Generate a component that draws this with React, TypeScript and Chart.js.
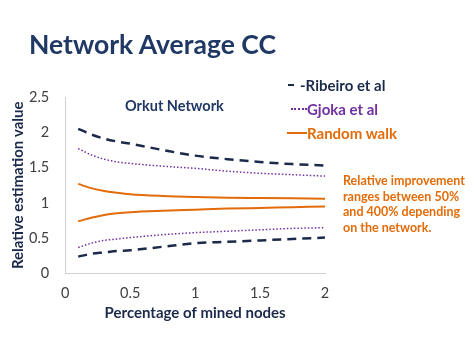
import React, { useEffect, useRef } from "react";
import { Chart, registerables } from "chart.js";

Chart.register(...registerables);

const xValues = [0.1, 0.2, 0.3, 0.4, 0.5, 0.75, 1, 1.25, 1.5, 1.75, 2];
const ribeiroUpper = [2.05, 1.97, 1.91, 1.87, 1.84, 1.75, 1.67, 1.62, 1.58, 1.55, 1.53];
const ribeiroLower = [0.24, 0.28, 0.3, 0.32, 0.33, 0.38, 0.43, 0.45, 0.47, 0.49, 0.51];
const gjokaUpper = [1.77, 1.68, 1.62, 1.58, 1.56, 1.52, 1.49, 1.45, 1.42, 1.4, 1.38];
const gjokaLower = [0.37, 0.43, 0.47, 0.49, 0.51, 0.55, 0.58, 0.6, 0.62, 0.64, 0.65];
const rwUpper = [1.27, 1.21, 1.17, 1.145, 1.125, 1.1, 1.085, 1.075, 1.07, 1.065, 1.06];
const rwLower = [0.74, 0.79, 0.83, 0.855, 0.87, 0.89, 0.905, 0.92, 0.93, 0.94, 0.95];
const xTicks = [0, 0.5, 1, 1.5, 2];
const yTicks = [0, 0.5, 1, 1.5, 2, 2.5];

const NAVY = "#1b2a4a";
const PURPLE = "#7030a0";
const ORANGE = "#e36c0a";
const FONT = "Lato, 'Open Sans', sans-serif";

const toPts = (ys: number[]) => xValues.map((x, i) => ({ x, y: ys[i] }));

export default function App() {
  const ref = useRef<HTMLCanvasElement>(null);
  useEffect(() => {
    if (!ref.current) return;
    const mk = (data: number[], color: string, dash: number[], width: number) => ({
      data: toPts(data),
      borderColor: color,
      borderDash: dash,
      borderWidth: width,
      pointRadius: 0,
      cubicInterpolationMode: "monotone" as const,
      fill: false,
    });
    const chart = new Chart(ref.current, {
      type: "line",
      data: {
        datasets: [
          mk(ribeiroUpper, NAVY, [9, 6], 2.5),
          mk(ribeiroLower, NAVY, [9, 6], 2.5),
          mk(gjokaUpper, PURPLE, [1.5, 2], 1.5),
          mk(gjokaLower, PURPLE, [1.5, 2], 1.5),
          mk(rwUpper, ORANGE, [], 2),
          mk(rwLower, ORANGE, [], 2),
        ],
      },
      options: {
        animation: false,
        responsive: false,
        layout: { padding: { left: 2, right: 149, top: 97, bottom: 30 } },
        plugins: { legend: { display: false }, tooltip: { enabled: false } },
        scales: {
          x: {
            type: "linear",
            min: 0,
            max: 2,
            afterBuildTicks: (s: any) => {
              s.ticks = xTicks.map((v) => ({ value: v }));
            },
            grid: { display: false, drawTicks: false },
            border: { color: "#d0d0d0", width: 1 },
            ticks: {
              color: "#404040",
              font: { family: FONT, size: 14.5 },
              padding: 11,
              callback: (v: any) => String(v),
            },
            title: {
              display: true,
              text: "Percentage of mined nodes",
              color: NAVY,
              font: { family: FONT, size: 15, weight: "bold" },
              padding: { top: -9, bottom: 3 },
            },
          },
          y: {
            min: 0,
            max: 2.5,
            afterBuildTicks: (s: any) => {
              s.ticks = yTicks.map((v) => ({ value: v }));
            },
            grid: { display: false, drawTicks: false },
            border: { color: "#d0d0d0", width: 1 },
            ticks: {
              color: "#404040",
              font: { family: FONT, size: 14.5 },
              padding: 16,
              callback: (v: any) => String(v),
            },
            title: {
              display: true,
              text: "Relative estimation value",
              color: NAVY,
              font: { family: FONT, size: 15, weight: "bold" },
              padding: { top: 7, bottom: -14 },
            },
          },
        },
      },
    });
    return () => chart.destroy();
  }, []);

  const legendRow = (top: number, color: string, label: string, sampleWidth: number, sample: React.ReactNode) => (
    <div style={{ position: "absolute", left: 286, top, display: "flex", alignItems: "center", height: 20 }}>
      <div style={{ width: sampleWidth, display: "flex", alignItems: "center" }}>{sample}</div>
      <span style={{ color, fontFamily: FONT, fontWeight: "bold", fontSize: 15, whiteSpace: "nowrap" }}>{label}</span>
    </div>
  );

  return (
    <div style={{ position: "absolute", left: 0, top: 0, width: 474, height: 355, background: "#fff", overflow: "hidden" }}>
      <canvas ref={ref} width={474} height={355} style={{ position: "absolute", left: 0, top: 0 }} />
      <div style={{ position: "absolute", left: 29, top: 28, color: "#1f3864", fontFamily: FONT, fontWeight: "bold", fontSize: 26.5, whiteSpace: "nowrap" }}>
        Network Average CC
      </div>
      <div style={{ position: "absolute", left: 125, top: 97, color: "#1f3864", fontFamily: FONT, fontWeight: "bold", fontSize: 14.5, whiteSpace: "nowrap" }}>
        Orkut Network
      </div>
      {legendRow(75, NAVY, "-Ribeiro et al", 14, <div style={{ width: 6, marginLeft: 2, borderTop: `2.5px solid ${NAVY}` }} />)}
      {legendRow(99, PURPLE, "Gjoka et al", 21, <div style={{ width: 16, marginLeft: 5, borderTop: `2px dotted ${PURPLE}` }} />)}
      {legendRow(123, ORANGE, "Random walk", 21, <div style={{ width: 20, marginLeft: 1, borderTop: `2px solid ${ORANGE}` }} />)}
      <div style={{ position: "absolute", left: 343, top: 173, width: 130, color: ORANGE, fontFamily: FONT, fontWeight: "bold", fontSize: 12.5, lineHeight: "15.7px" }}>
        Relative improvement ranges between 50% and 400% depending on the network.
      </div>
    </div>
  );
}
